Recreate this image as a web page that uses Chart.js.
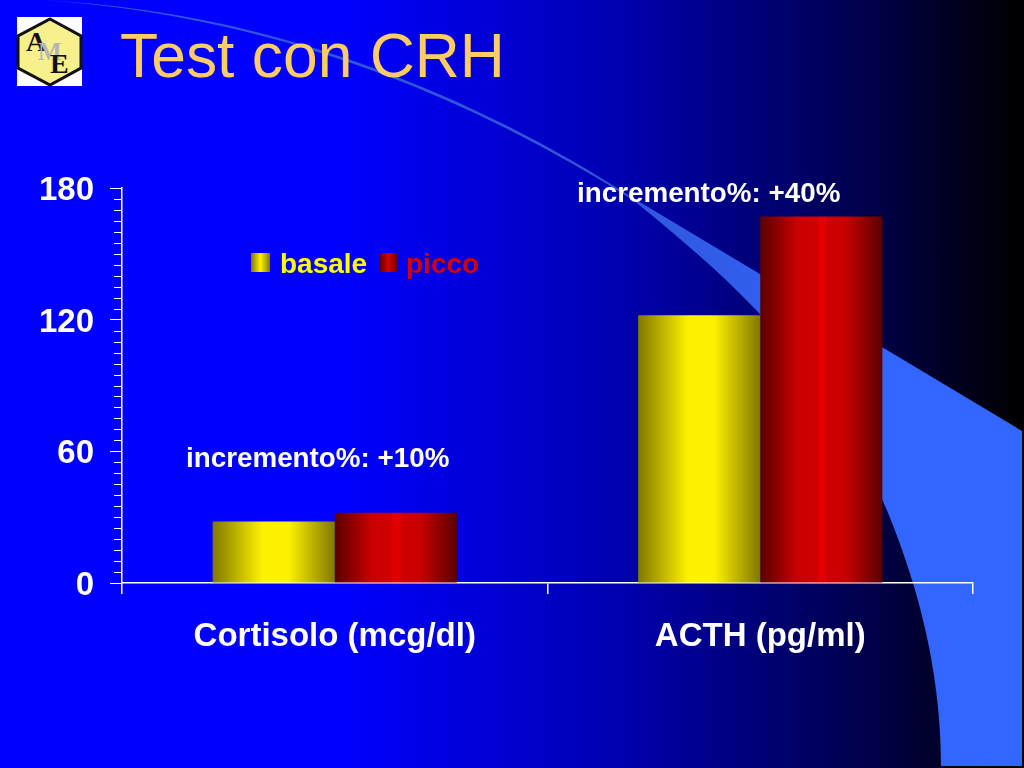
<!DOCTYPE html>
<html><head><meta charset="utf-8">
<style>
html,body{margin:0;padding:0;width:1024px;height:768px;overflow:hidden;background:#00f}
#stage{position:relative;width:1024px;height:768px;background:linear-gradient(90deg,#0000ff 0,#0000ff 340px,#0000b0 620px,#000045 880px,#000 1020px);font-family:"Liberation Sans",Arial,sans-serif}
#deco,#c{position:absolute;left:0;top:0}
.t{position:absolute;white-space:nowrap;line-height:1}
#title{left:120px;top:25px;font-size:62.4px;color:#ffcc66}
.ann{font-weight:bold;font-size:27.8px;color:#fff}
#legend .n{position:absolute;white-space:nowrap;font-weight:bold;font-size:28px;line-height:1}
#legend .b{position:absolute;width:19px;height:19px}
</style></head><body>
<div id="stage">
<svg id="deco" width="1024" height="768" viewBox="0 0 1024 768">
<defs><linearGradient id="sw" gradientUnits="userSpaceOnUse" x1="600" y1="0" x2="880" y2="0"><stop offset="0" stop-color="#2f55d8"/><stop offset="1" stop-color="#3366ff"/></linearGradient></defs>
<path d="M40,0 C250,10 450,80 633,198 L1022,431 L1022,766 L941,766 C941,700 930,640 913,583 C900,540 885,505 881,497 C860,450 810,375 758,312 C720,272 680,238 633,200 C450,84 250,13 40,0Z" fill="url(#sw)"/>
<rect x="17" y="17" width="65" height="69" fill="#fff"/>
<polygon points="50,19 81,36 81,68 50,85 18,68 18,36" fill="#f7f08c" stroke="#111" stroke-width="3"/>
<text x="26" y="51" font-family="Liberation Serif" font-weight="bold" font-size="28" fill="#111">A</text>
<text x="38" y="60" font-family="Liberation Serif" font-weight="bold" font-size="25" fill="#b5b5b5">M</text>
<text x="50" y="73" font-family="Liberation Serif" font-weight="bold" font-size="28" fill="#111">E</text>
</svg>
<canvas id="c" width="1024" height="768" style="width:1024px;height:768px"></canvas>
<div class="t" id="title">Test con CRH</div>
<div class="t ann" style="left:186px;top:444px">incremento%: +10%</div>
<div class="t ann" style="left:577px;top:179px">incremento%: +40%</div>
<div id="legend"></div>
</div>
<script src="https://cdn.jsdelivr.net/npm/chart.js@4"></script>
<script>
const categories = ["Cortisolo (mcg/dl)", "ACTH (pg/ml)"];
const seriesNames = ["basale", "picco"];
const basale = [28, 122];
const picco = [32, 167];
const majorTicks = [0, 60, 120, 180];
const yMax = 180;
const minorStep = 5;

const barPct = 0.574;
const stops = {
  basale: { c: ["#807800", "#fff200", "#fff200", "#807800"], p: [0, 0.41, 0.62, 1] },
  picco: { c: ["#5a0000", "#c80000", "#d00000", "#e00000", "#e00000", "#d00000", "#c80000", "#5a0000"],
           p: [0, 0.3, 0.46, 0.48, 0.53, 0.55, 0.7, 1] }
};
function gradient(ctx2d, x0, x1, s) {
  const g = ctx2d.createLinearGradient(x0, 0, x1, 0);
  s.c.forEach((c, i) => g.addColorStop(s.p[i], c));
  return g;
}
function barFill(name) {
  return function (ctx) {
    const chart = ctx.chart, x = chart.scales.x;
    if (!x || ctx.dataIndex === undefined) return stops[name].c[1];
    const catW = x.width / categories.length;
    const w = catW * barPct / 2;
    const c = x.getPixelForValue(ctx.dataIndex);
    const l = c + (ctx.datasetIndex - 1) * w;
    if (!isFinite(l) || !isFinite(w) || w <= 0) return stops[name].c[1];
    return gradient(chart.ctx, l, l + w, stops[name]);
  };
}
const minorTickPlugin = {
  id: "minorTicks",
  afterDraw(chart) {
    const y = chart.scales.y, c = chart.ctx, l = chart.chartArea.left;
    c.save();
    c.strokeStyle = "#ffffff";
    c.lineWidth = 1;
    for (const t of y.ticks) {
      if (majorTicks.includes(t.value)) continue;
      const p = Math.round(y.getPixelForValue(t.value)) + 0.5;
      c.beginPath(); c.moveTo(l - 8, p); c.lineTo(l, p); c.stroke();
    }
    c.restore();
  }
};
const chart = new Chart(document.getElementById("c"), {
  type: "bar",
  data: {
    labels: categories,
    datasets: [
      { label: seriesNames[0], data: basale, backgroundColor: barFill("basale") },
      { label: seriesNames[1], data: picco, backgroundColor: barFill("picco") }
    ]
  },
  plugins: [minorTickPlugin],
  options: {
    responsive: false, animation: false, devicePixelRatio: 1,
    layout: { padding: { left: 0, top: 188, right: 51, bottom: 85 } },
    plugins: { legend: { display: false }, title: { display: false }, tooltip: { enabled: false } },
    datasets: { bar: { categoryPercentage: barPct, barPercentage: 1, borderWidth: 0 } },
    scales: {
      x: {
        afterFit(s) { s.height = 100; },
        grid: { display: true, drawOnChartArea: false, drawTicks: true, tickLength: 11, tickColor: "#fff", color: "#fff", offset: true, lineWidth: 1.5 },
        border: { color: "#fff", width: 1.5 },
        ticks: { color: "#fff", font: { family: "Liberation Sans", weight: "bold", size: 33 }, padding: 23, maxRotation: 0 }
      },
      y: {
        min: 0, max: yMax,
        afterFit(s) { s.width = 122; },
        grid: { drawOnChartArea: false, tickLength: 12,
          tickColor: (c) => majorTicks.includes(c.tick.value) ? "#fff" : "rgba(0,0,0,0)" },
        border: { color: "#fff", width: 1.5 },
        ticks: { stepSize: minorStep, autoSkip: false, color: "#fff", padding: 16, labelOffset: 3,
          font: { family: "Liberation Sans", weight: "bold", size: 33 },
          callback: (v) => majorTicks.includes(v) ? String(v) : "" }
      }
    }
  }
});
const lg = document.getElementById("legend");
[[251, 280, "#ffff00", "basale", "linear-gradient(90deg,#807800,#fff200 50%,#807800)"],
 [379, 406, "#d40000", "picco", "linear-gradient(90deg,#5a0000,#d80000 50%,#5a0000)"]].forEach((it, i) => {
  const b = document.createElement("div"); b.className = "b";
  b.style.cssText = `left:${it[0]}px;top:253px;background:${it[4]}`;
  const n = document.createElement("div"); n.className = "n";
  n.style.cssText = `left:${it[1]}px;top:250px;color:${it[2]}`;
  n.textContent = chart.data.datasets[i].label;
  lg.append(b, n);
});
</script>
</body></html>
